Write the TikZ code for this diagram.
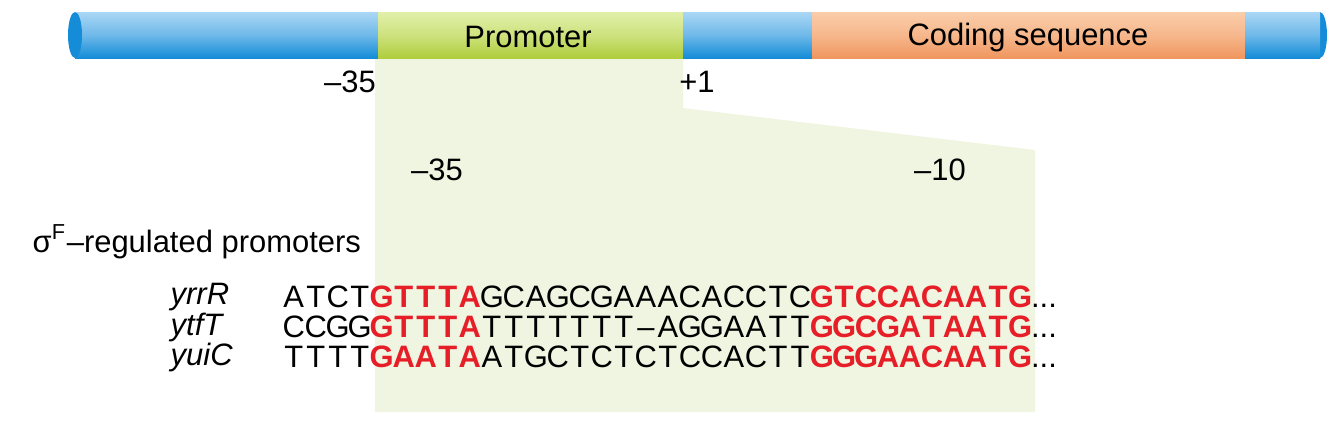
\documentclass[tikz,border=0pt]{standalone}
\usepackage{fontspec}
\setmainfont{Liberation Sans}
\usetikzlibrary{positioning}
\definecolor{dnablue}{RGB}{20,140,215}
\definecolor{dnablueup}{RGB}{170,215,245}
\definecolor{promgreen}{RGB}{175,205,60}
\definecolor{promgreenup}{RGB}{225,240,170}
\definecolor{codeorange}{RGB}{240,150,95}
\definecolor{codeorangeup}{RGB}{250,205,170}
\definecolor{zoomfill}{RGB}{240,245,225}
\definecolor{dnared}{RGB}{230,30,40}
\makeatletter
\newcommand\bases[1]{\@tfor\b:=#1\do{\makebox[0.22cm]{\b}}}
\makeatother
\newcommand\hit[1]{\textcolor{dnared}{\bfseries\bases{#1}}}
\begin{document}
\begin{tikzpicture}[x=0.01cm, y=-0.01cm,
    seg/.style={top color=#1up, bottom color=#1, middle color=#1up!60!#1, draw=none},
    lbl/.style={font=\fontsize{8.8pt}{10pt}\selectfont, inner sep=0pt},
    seqline/.style={font=\fontsize{8.8pt}{10pt}\selectfont, anchor=west, inner sep=0pt}]
    \useasboundingbox (0,0) rectangle (1344,427);
    % Zoomed promoter region
    \fill[zoomfill] (375,58) -- (683,58) -- (683,108) -- (1035,150) -- (1035,412) -- (375,412) -- cycle;
    % DNA bar
    \fill[dnablue] (1320,35) ellipse[x radius=7, y radius=23];
    \shade[seg=dnablue] (75,12) rectangle (380,58);
    \shade[seg=promgreen] (378,12) rectangle (685,58);
    \shade[seg=dnablue] (683,12) rectangle (814,58);
    \shade[seg=codeorange] (812,12) rectangle (1247,58);
    \shade[seg=dnablue] (1245,12) rectangle (1320,58);
    \fill[dnablue] (75,35) ellipse[x radius=7, y radius=23];
    \node[lbl] (prom) at (528,37) {Promoter};
    \node[lbl] (cds) at (1028,37) {Coding sequence};
    % Positions
    \node[lbl] (m35a) at (350,82) {\char"2013 35};
    \node[lbl] (p1) at (697,82) {+1};
    \node[lbl] (m35b) at (437,170) {\char"2013 35};
    \node[lbl] (m10) at (940,170) {\char"2013 10};
    % Sequences
    \node[lbl, anchor=west] (sigma) at (32,242) {σ\textsuperscript{F}\char"2013 regulated promoters};
    \node[lbl, anchor=west, font=\fontsize{8.8pt}{10pt}\selectfont\itshape] (g1) at (170,297) {yrrR};
    \node[lbl, anchor=west, font=\fontsize{8.8pt}{10pt}\selectfont\itshape] (g2) at (170,327) {ytfT};
    \node[lbl, anchor=west, font=\fontsize{8.8pt}{10pt}\selectfont\itshape] (g3) at (170,357) {yuiC};
    \node[seqline] (s1) at (282,297) {\bases{ATCT}\hit{GTTTA}\bases{GCAGCGAAACACCTC}\hit{GTCCACAATG}...};
    \node[seqline] (s2) at (282,327) {\bases{CCGG}\hit{GTTTA}\bases{TTTTTTT}\makebox[0.22cm]{\char"2013}\bases{AGGAATT}\hit{GGCGATAATG}...};
    \node[seqline] (s3) at (282,357) {\bases{TTTT}\hit{GAATA}\bases{ATGCTCTCTCCACTT}\hit{GGGAACAATG}...};
\end{tikzpicture}
\end{document}
